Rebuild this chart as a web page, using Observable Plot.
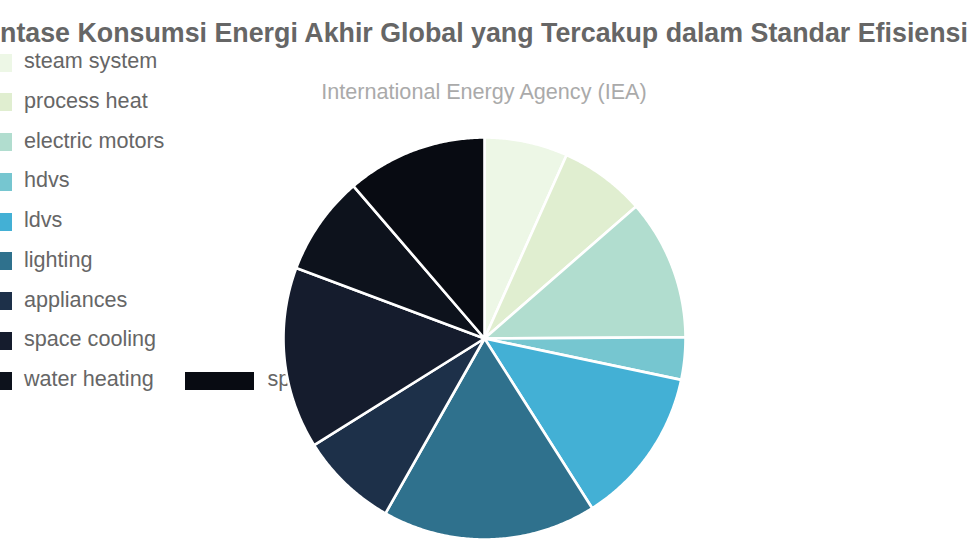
<!DOCTYPE html>
<html>
<head>
<meta charset="utf-8">
<script src="https://cdn.jsdelivr.net/npm/d3@7"></script>
<script src="https://cdn.jsdelivr.net/npm/@observablehq/plot@0.6"></script>
<style>
  html, body { margin: 0; padding: 0; background: #fff; }
  body { width: 968px; height: 543px; overflow: hidden; position: relative;
         font-family: "Liberation Sans", Arial, Helvetica, sans-serif; }
  #title { position: absolute; top: 20px; left: -73px; white-space: nowrap;
           font-size: 26.8px; line-height: 26.8px; font-weight: bold; color: #666; }
  #subtitle { position: absolute; top: 80.7px; left: 0; width: 968px; text-align: center;
              font-size: 21.6px; line-height: 21.6px; color: #aaa; white-space: nowrap; }
  .lg-sw { position: absolute; width: 69px; height: 18px; }
  .lg-tx { position: absolute; white-space: nowrap; font-size: 21.6px; line-height: 21.6px; color: #666; }
  #chart { position: absolute; left: 280.2px; top: 134.3px; }
</style>
</head>
<body>
<div id="legend"></div>
<div id="title"></div>
<div id="subtitle"></div>
<div id="chart"></div>
<script>
// ---- data ----
const categories = ["steam system", "process heat", "electric motors", "hdvs", "ldvs",
                    "lighting", "appliances", "space cooling", "water heating", "space heating"];
const shares = [6.7, 6.9, 11.3, 3.4, 12.7, 17.2, 7.9, 14.6, 8.0, 11.3];
const palette = ["#edf7e6", "#e0eed0", "#b1ddcf", "#76c6d0", "#43b0d5",
                 "#2f718d", "#1d3049", "#151c2d", "#0d121c", "#080b12"];
const titleText = "Persentase Konsumsi Energi Akhir Global yang Tercakup dalam Standar Efisiensi Energi";
const subtitleText = "International Energy Agency (IEA)";

// ---- pie geometry from data (unit circle, clockwise from 12 o'clock) ----
const arcs = d3.pie().sort(null).value(d => d.v)(categories.map((c, i) => ({c, v: shares[i]})));
const pts = [];
arcs.forEach(a => {
  const name = a.data.c;
  pts.push({name, x: 0, y: 0});
  const n = Math.max(2, Math.ceil((a.endAngle - a.startAngle) / (Math.PI / 360)));
  for (let k = 0; k <= n; k++) {
    const t = a.startAngle + (a.endAngle - a.startAngle) * k / n;
    pts.push({name, x: Math.sin(t), y: Math.cos(t)});
  }
  pts.push({name, x: 0, y: 0});
});

const R = 201, M = 3;
const svg = Plot.plot({
  width: 2 * R + 2 * M,
  height: 2 * R + 2 * M,
  margin: M,
  style: {background: "transparent", overflow: "visible"},
  x: {domain: [-1, 1], axis: null},
  y: {domain: [-1, 1], axis: null},
  color: {domain: categories, range: palette},
  marks: [
    Plot.line(pts, {x: "x", y: "y", z: "name", fill: "name", stroke: "white",
                    strokeWidth: 2.6, strokeLinejoin: "round", curve: "linear"})
  ]
});
document.getElementById("chart").appendChild(svg);

// ---- legend ----
const legend = document.getElementById("legend");
const cols = [{sw: -57, tx: 24}, {sw: 185, tx: 267.5}];
categories.forEach((c, i) => {
  const col = i < 9 ? 0 : 1;
  const row = i < 9 ? i : 8;
  const cy = 62.5 + row * 39.75;
  const sw = document.createElement("div");
  sw.className = "lg-sw";
  sw.style.left = cols[col].sw + "px";
  sw.style.top = (cy - 9) + "px";
  sw.style.background = palette[i];
  legend.appendChild(sw);
  const tx = document.createElement("div");
  tx.className = "lg-tx";
  tx.style.left = cols[col].tx + "px";
  tx.style.top = (cy + 5.8 - 18.3) + "px";
  tx.textContent = c;
  legend.appendChild(tx);
});
document.getElementById("title").textContent = titleText;
document.getElementById("subtitle").textContent = subtitleText;
</script>
</body>
</html>
